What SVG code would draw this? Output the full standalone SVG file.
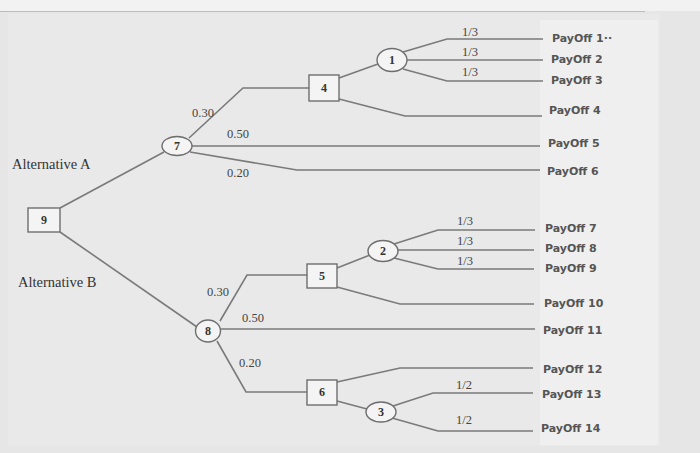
<svg xmlns="http://www.w3.org/2000/svg" width="700" height="453" viewBox="0 0 700 453">
<style>
.bg{fill:#e6e6e6}
.ln{fill:none;stroke:#7a7a7a;stroke-width:1.6}
.nd{fill:#f4f4f4;stroke:#6e6e6e;stroke-width:1.4}
.nt{font-family:"Liberation Serif",serif;font-size:12px;font-weight:bold;fill:#333;text-anchor:middle}
.pr{font-family:"Liberation Serif",serif;font-size:12.5px;fill:#444}
.alt{font-family:"Liberation Serif",serif;font-size:14.5px;fill:#333}
.po{font-family:"DejaVu Sans",sans-serif;font-size:11px;font-weight:bold;fill:#555}
</style>
<rect class="bg" x="0" y="0" width="700" height="453"/>
<rect x="0" y="0" width="700" height="11" fill="#f2f2f2"/>
<line x1="0" y1="11.5" x2="645" y2="11.5" stroke="#bdbdbd" stroke-width="1"/>
<rect x="8" y="14" width="652" height="432" fill="#e9e9e9"/>
<rect x="540" y="20" width="118" height="425" fill="#efefef"/>
<g id="connectors">
<path class="ln" d="M60,208 L164,152"/>
<path class="ln" d="M60,232 L197,327"/>
<path class="ln" d="M189,138 L243,88 L309,88"/>
<path class="ln" d="M192,146 L540,146"/>
<path class="ln" d="M190,152 L297,170 L540,170"/>
<path class="ln" d="M339,78 L378,64"/>
<path class="ln" d="M339,99 L405,116 L542,116"/>
<path class="ln" d="M403,52 L447,39 L543,39"/>
<path class="ln" d="M407,60 L543,60"/>
<path class="ln" d="M403,69 L447,81 L543,81"/>
<path class="ln" d="M220,321 L247,275 L307,275"/>
<path class="ln" d="M221,329 L535,329"/>
<path class="ln" d="M217,341 L246,392 L307,392"/>
<path class="ln" d="M337,268 L370,255"/>
<path class="ln" d="M337,287 L400,304 L534,304"/>
<path class="ln" d="M394,244 L438,230 L535,230"/>
<path class="ln" d="M398,250 L534,250"/>
<path class="ln" d="M394,258 L438,269 L534,269"/>
<path class="ln" d="M337,382 L400,368 L533,368"/>
<path class="ln" d="M337,401 L367,409"/>
<path class="ln" d="M393,406 L433,393 L533,393"/>
<path class="ln" d="M392,418 L438,431 L533,431"/>
</g>
<g id="node9"><rect class="nd" x="28" y="208" width="32" height="24"/><text class="nt" x="44" y="224">9</text></g>
<g id="node7"><ellipse class="nd" cx="177" cy="146" rx="15" ry="9.5"/><text class="nt" x="177" y="150">7</text></g>
<g id="node8"><ellipse class="nd" cx="208" cy="331" rx="12.5" ry="11"/><text class="nt" x="208" y="335">8</text></g>
<g id="node4"><rect class="nd" x="309" y="75" width="30" height="26"/><text class="nt" x="324" y="92">4</text></g>
<g id="node5"><rect class="nd" x="307" y="264" width="30" height="24"/><text class="nt" x="322" y="280">5</text></g>
<g id="node6"><rect class="nd" x="307" y="380" width="30" height="25"/><text class="nt" x="322" y="396">6</text></g>
<g id="node1"><ellipse class="nd" cx="392" cy="60" rx="15" ry="11.5"/><text class="nt" x="392" y="64">1</text></g>
<g id="node2"><ellipse class="nd" cx="383" cy="251" rx="15" ry="10.5"/><text class="nt" x="383" y="255">2</text></g>
<g id="node3"><ellipse class="nd" cx="381" cy="412" rx="15" ry="10"/><text class="nt" x="381" y="416">3</text></g>
<g id="labels">
<text class="alt" x="12" y="169">Alternative A</text>
<text class="alt" x="18" y="287">Alternative B</text>
<text class="pr" x="192" y="117">0.30</text>
<text class="pr" x="227" y="138">0.50</text>
<text class="pr" x="227" y="177">0.20</text>
<text class="pr" x="207" y="296">0.30</text>
<text class="pr" x="242" y="322">0.50</text>
<text class="pr" x="239" y="367">0.20</text>
<text class="pr" x="462" y="36">1/3</text>
<text class="pr" x="462" y="56">1/3</text>
<text class="pr" x="462" y="76">1/3</text>
<text class="pr" x="457" y="225">1/3</text>
<text class="pr" x="457" y="245">1/3</text>
<text class="pr" x="457" y="265">1/3</text>
<text class="pr" x="456" y="389">1/2</text>
<text class="pr" x="456" y="424">1/2</text>
<text class="po" x="552" y="42">PayOff 1··</text>
<text class="po" x="551" y="63">PayOff 2</text>
<text class="po" x="551" y="84">PayOff 3</text>
<text class="po" x="549" y="114">PayOff 4</text>
<text class="po" x="548" y="147">PayOff 5</text>
<text class="po" x="547" y="175">PayOff 6</text>
<text class="po" x="545" y="232">PayOff 7</text>
<text class="po" x="545" y="252">PayOff 8</text>
<text class="po" x="545" y="272">PayOff 9</text>
<text class="po" x="544" y="307">PayOff 10</text>
<text class="po" x="543" y="334">PayOff 11</text>
<text class="po" x="543" y="373">PayOff 12</text>
<text class="po" x="542" y="398">PayOff 13</text>
<text class="po" x="541" y="432">PayOff 14</text>
</g>
</svg>
